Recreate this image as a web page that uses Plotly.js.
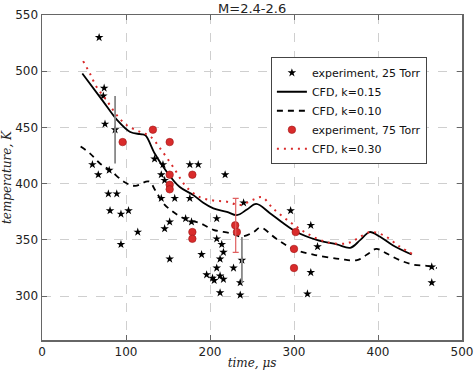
<!DOCTYPE html>
<html><head><meta charset="utf-8">
<script src="https://cdn.plot.ly/plotly-3.0.1.min.js"></script>
<style>html,body{margin:0;padding:0;background:#fff}#c{width:474px;height:370px}</style>
</head><body><div id="c"></div>
<script>
// experiment, 25 Torr
const exp25X = [68,74,73,75,87,60,67,80,79,89,81,94,103,114,94,134,144,142,146,142,158,152,146,152,176,186,176,171,178,218,208,208,214,216,190,212,208,196,203,205,212,216,212,228,238,236,236,240,296,320,328,320,316,464,464];
const exp25Y = [530,485,478,453,448,417,408,412,391,391,376,373,376,357,346,422,417,408,403,387,387,366,360,333,417,417,387,369,366,408,369,351,346,339,337,333,325,319,316,314,318,315,303,325,332,312,301,383,376,363,344,321,302,326,312];
// experiment, 75 Torr
const exp75X = [132,96,152,152,179,152,152,179,179,230,232,302,300,300];
const exp75Y = [448,437,437,408,408,399,395,357,351,363,357,357,342,325];
// CFD k=0.15
const cfd15X = [48,73,89,105,117,123,134,148,164,180,192,204,220,232,244,255,271,287,303,327,351,367,379,390,402,418,440];
const cfd15Y = [498,473,457,446,444,443,427,411,397,390,383,378,375,372,377,382,374,365,357,350,346,343,350,357,353,345,337];
// CFD k=0.10
const cfd10X = [46,57,69,81,99,111,127,135,144,156,172,188,204,224,238,252,260,279,299,323,355,375,387,398,410,426,442,458,470];
const cfd10Y = [433,427,418,412,401,398,402,394,383,375,368,365,359,356,353,357,361,351,342,337,333,332,337,342,338,332,328,327,325];
// CFD k=0.30
const cfd30X = [49,57,65,77,89,101,117,129,141,156,172,188,204,220,236,252,262,275,295,315,339,363,375,391,407,426,442];
const cfd30Y = [509,498,486,474,461,452,446,442,431,415,397,388,385,384,381,386,388,378,366,356,348,347,351,357,354,344,337];
// error bars
const errGreyX = [87,238];
const errGreyY = [448,332];
const errGreyD = [30,20.5];
const errRedX = [230.6];
const errRedY = [363];
const errRedD = [24];

const red = '#d92b2b';
const traces = [
  {x: exp25X, y: exp25Y, mode:'markers', name:'experiment, 25 Torr', marker:{symbol:'star', size:6.5, color:'#000'}},
  {x: cfd15X, y: cfd15Y, mode:'lines', name:'CFD, k=0.15', line:{color:'#000', width:1.8, shape:'spline'}},
  {x: cfd10X, y: cfd10Y, mode:'lines', name:'CFD, k=0.10', line:{color:'#000', width:1.8, dash:'6px,5px', shape:'spline'}},
  {x: exp75X, y: exp75Y, mode:'markers', name:'experiment, 75 Torr', marker:{symbol:'circle', size:7.5, color:red, line:{color:'#a01818', width:0.6}}},
  {x: cfd30X, y: cfd30Y, mode:'lines', name:'CFD, k=0.30', line:{color:red, width:2, dash:'2px,5px', shape:'spline'}},
  {x: errGreyX, y: errGreyY, mode:'markers', showlegend:false, hoverinfo:'skip', marker:{size:0.1, color:'rgba(0,0,0,0)'},
   error_y:{type:'data', array: errGreyD, visible:true, color:'#888', thickness:1.8, width:0}},
  {x: errRedX, y: errRedY, mode:'markers', showlegend:false, hoverinfo:'skip', marker:{size:0.1, color:'rgba(0,0,0,0)'},
   error_y:{type:'data', array: errRedD, visible:true, color:'#e06060', thickness:1.2, width:3}}
];
const axisCommon = {
  showline:true, mirror:'ticks', linecolor:'#666', linewidth:1.5,
  ticks:'inside', ticklen:5, tickcolor:'#666',
  showgrid:true, gridcolor:'#cfcfcf', griddash:'dash', gridwidth:1,
  zeroline:false, tickfont:{family:'DejaVu Sans', size:12, color:'#222'}
};
const layout = {
  width:474, height:370,
  margin:{l:42, r:12, t:15, b:30},
  paper_bgcolor:'#fff', plot_bgcolor:'#fff',
  title:{text:'M=2.4-2.6', font:{family:'DejaVu Sans', size:13, color:'#222'}, x:0.532, xanchor:'center', y:0.99, yanchor:'top'},
  xaxis: Object.assign({}, axisCommon, {range:[0,500], tickvals:[0,100,200,300,400,500],
    title:{text:'time, μs', font:{family:'DejaVu Serif', size:12, color:'#222', style:'italic'}, standoff:2}}),
  yaxis: Object.assign({}, axisCommon, {range:[261,550], tickvals:[300,350,400,450,500,550],
    title:{text:'temperature, K', font:{family:'DejaVu Serif', size:12, color:'#222', style:'italic'}, standoff:4}}),
  legend:{x:0.545, y:0.87, xanchor:'left', yanchor:'top', bgcolor:'#fff', bordercolor:'#444', borderwidth:1,
    font:{family:'DejaVu Sans', size:11, color:'#111'}, tracegroupgap:0, itemwidth:30},
  showlegend:true
};
Plotly.newPlot('c', traces, layout, {displayModeBar:false, staticPlot:true});
</script></body></html>
